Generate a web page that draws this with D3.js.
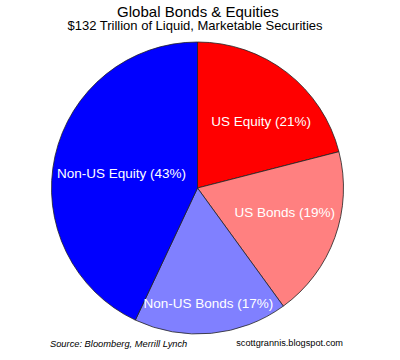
<!DOCTYPE html>
<html>
<head>
<meta charset="utf-8">
<script src="https://cdn.jsdelivr.net/npm/d3@7/dist/d3.min.js"></script>
<style>
  body { margin: 0; background: #fff; }
  svg { display: block; }
  text { font-family: "Liberation Sans", Arial, sans-serif; }
</style>
</head>
<body>
<svg width="400" height="360"></svg>
<script>
// Data
const categories = ["US Equity", "US Bonds", "Non-US Bonds", "Non-US Equity"];
const shares = [21, 19, 17, 43];
const sliceColors = ["#ff0000", "#ff8080", "#8080ff", "#0000ff"];

const title = "Global Bonds & Equities";
const subtitle = "$132 Trillion of Liquid, Marketable Securities";
const source = "Source: Bloomberg, Merrill Lynch";
const credit = "scottgrannis.blogspot.com";

const svg = d3.select("svg");
const cx = 197.5, cy = 188, r = 146;

// titles
svg.append("text")
    .attr("x", 198).attr("y", 16.5)
    .attr("text-anchor", "middle")
    .attr("font-size", 15)
    .text(title);
svg.append("text")
    .attr("x", 195).attr("y", 30)
    .attr("text-anchor", "middle")
    .attr("font-size", 13)
    .text(subtitle);

// pie, starting at 12 o'clock, clockwise
const pie = d3.pie().sort(null).value(d => d);
const arcs = pie(shares);
const arc = d3.arc().innerRadius(0).outerRadius(r);

const g = svg.append("g").attr("transform", `translate(${cx},${cy})`);

g.selectAll("path.slice")
    .data(arcs)
    .enter()
    .append("path")
    .attr("class", "slice")
    .attr("d", arc)
    .attr("fill", (d, i) => sliceColors[i])
    .attr("stroke", "#222")
    .attr("stroke-width", 0.8);

// labels sit at different depths / turns inside each slice so they fit
const labelDepth = [0.63, 0.62, 0.79, 0.53];
const labelTurn = [6, -4.5, 0, -1.5]; // degrees
g.selectAll("text.lbl")
    .data(arcs)
    .enter()
    .append("text")
    .attr("class", "lbl")
    .attr("transform", (d, i) => {
        let a = (d.startAngle + d.endAngle) / 2 + labelTurn[i] * Math.PI / 180;
        let lr = r * labelDepth[i];
        return `translate(${lr * Math.sin(a)},${-lr * Math.cos(a)})`;
    })
    .attr("dy", "0.36em")
    .attr("text-anchor", "middle")
    .attr("font-size", 13.5)
    .attr("fill", "#fff")
    .text((d, i) => `${categories[i]} (${shares[i]}%)`);

// footer
svg.append("text")
    .attr("x", 50).attr("y", 347)
    .attr("font-size", 9.3)
    .attr("font-style", "italic")
    .text(source);
svg.append("text")
    .attr("x", 343).attr("y", 346)
    .attr("text-anchor", "end")
    .attr("font-size", 9.2)
    .text(credit);
</script>
</body>
</html>
